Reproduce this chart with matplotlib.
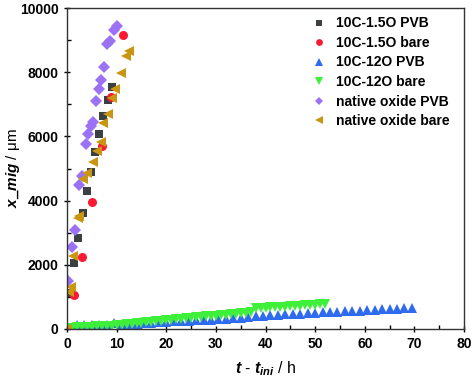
import matplotlib
matplotlib.use("Agg")
import matplotlib.pyplot as plt
from matplotlib.ticker import MultipleLocator

plt.rcParams["font.family"] = ["Liberation Sans", "DejaVu Sans"]
plt.rcParams["font.weight"] = "bold"
plt.rcParams["mathtext.fontset"] = "custom"
plt.rcParams["mathtext.it"] = "Liberation Sans:italic:bold"
plt.rcParams["mathtext.rm"] = "Liberation Sans:bold"

# 10C-1.5O PVB
sq_t = [0.5, 1.4, 2.3, 3.2, 4.0, 4.8, 5.6, 6.45, 7.3, 8.2, 9.1]
sq_x = [1130, 2050, 2840, 3610, 4310, 4900, 5530, 6090, 6630, 7120, 7540]
# 10C-1.5O bare
rc_t = [1.4, 3.1, 5.1, 7.0, 8.9, 11.2]
rc_x = [1050, 2250, 3950, 5690, 7230, 9170]
# 10C-12O PVB
bt_t = [0.5, 2.0, 3.5, 5.0, 6.5, 8.0, 9.5, 11.0, 12.5, 14.0, 15.5, 17.0, 18.5, 20.0,
        21.5, 23.0, 24.5, 26.0, 27.5, 29.0, 30.5, 32.0, 33.5, 35.0, 36.5, 38.0, 39.5,
        41.0, 42.5, 44.0, 45.5, 47.0, 48.5, 50.0, 51.5, 53.0, 54.5, 56.0, 57.5, 59.0,
        60.5, 62.0, 63.5, 65.0, 66.5, 68.0, 69.5]
bt_x = [40, 120, 125, 130, 130, 140, 180, 150, 160, 170, 180, 195, 210, 220,
        235, 245, 260, 270, 285, 295, 310, 320, 335, 350, 360, 405, 420,
        430, 445, 455, 470, 480, 495, 510, 520, 535, 545, 555, 565, 575,
        585, 600, 610, 620, 635, 645, 660]
# 10C-12O bare
gt_t = [0, 1, 2, 3, 4, 5, 6, 7, 8, 9, 10, 11, 12, 13, 14, 15, 16, 17, 18, 19, 20,
        21, 22, 23, 24, 25, 26, 27, 28, 29, 30, 31, 32, 33, 34, 35, 36, 37, 38, 39,
        40, 41, 42, 43, 44, 45, 46, 47, 48, 49, 50, 51, 52]
gt_x = [30, 40, 50, 55, 60, 70, 80, 85, 95, 105, 120, 135, 150, 165, 180, 195, 210,
        225, 240, 255, 270, 285, 300, 315, 330, 345, 360, 375, 390, 405, 420, 435,
        450, 465, 480, 495, 510, 540, 640, 650, 660, 670, 680, 690, 700, 710, 720,
        730, 740, 750, 760, 770, 780]
# native oxide PVB
pd_t = [0.27, 1.0, 1.6, 2.4, 3.0, 3.8, 4.3, 4.8, 5.3, 5.85, 6.45, 6.9, 7.4, 8.0,
        8.7, 9.5, 10.1]
pd_x = [1510, 2560, 3070, 4500, 4760, 5750, 6080, 6340, 6460, 7100, 7490, 7750,
        8150, 8870, 8980, 9320, 9430]
# native oxide bare
gl_t = [0.0, 0.3, 0.9, 1.3, 2.2, 2.5, 3.3, 4.1, 5.2, 6.0, 6.8, 7.3, 8.3, 9.0, 9.7,
        10.9, 11.9, 12.4]
gl_x = [0, 1150, 1320, 2260, 3460, 3530, 4660, 4870, 5200, 5540, 5830, 6410, 6690,
        7210, 7470, 7990, 8510, 8670]

fig = plt.figure(figsize=(4.74, 3.83), dpi=100)
ax = fig.add_axes([0.1414, 0.141, 0.8376, 0.838])

ms = 6.5
ax.plot(sq_t, sq_x, "s", color="#3b4043", ms=ms - 0.5, mew=0, label="10C-1.5O PVB")
ax.plot(rc_t, rc_x, "o", color="#fb1a33", ms=ms, mew=0, label="10C-1.5O bare")
ax.plot(bt_t, bt_x, "^", color="#2f6bee", ms=ms + 0.5, mew=0, label="10C-12O PVB")
ax.plot(gt_t, gt_x, "v", color="#3ff03a", ms=ms + 0.5, mew=0, label="10C-12O bare")
ax.plot(pd_t, pd_x, "D", color="#9c72f4", ms=ms - 0.5, mew=0, label="native oxide PVB")
ax.plot(gl_t, gl_x, "<", color="#c99612", ms=ms + 1, mew=0, label="native oxide bare")

ax.set_xlim(0, 80)
ax.set_ylim(0, 10000)
ax.xaxis.set_major_locator(MultipleLocator(10))
ax.xaxis.set_minor_locator(MultipleLocator(5))
ax.yaxis.set_major_locator(MultipleLocator(2000))
ax.yaxis.set_minor_locator(MultipleLocator(1000))
ax.tick_params(which="major", direction="inout", length=5, width=1, labelsize=10)
ax.tick_params(which="minor", direction="in", length=3, width=1)
for s in ax.spines.values():
    s.set_linewidth(1.0)
    s.set_color("#333333")

ax.set_xlabel(r"$t$ - $t_{ini}$ / h", fontsize=11.5, labelpad=6)
ax.set_ylabel(r"$x\_mig$ / μm", fontsize=11)
ax.yaxis.set_label_coords(-0.113, 0.5)

ax.legend(loc="upper right", frameon=False, fontsize=10, handletextpad=0.7,
          labelspacing=0.4, borderaxespad=0.2, handlelength=1.0, markerscale=0.75,
          bbox_to_anchor=(0.985, 1.0))

fig.savefig("out.png", dpi=100, facecolor="white")
